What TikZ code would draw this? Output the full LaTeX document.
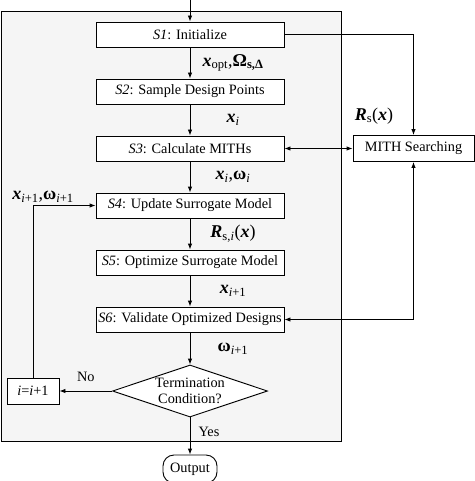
\documentclass[tikz,border=0pt]{standalone}
\usepackage{fontspec}
\setmainfont{Liberation Serif}
\usetikzlibrary{arrows.meta, positioning, quotes, shapes.geometric}
\newcommand{\vx}{\textbf{\textit{x}}}
\tikzstyle{every picture} = [x=1pt, y=-1pt, node distance=57pt, >={Latex[length=6pt,width=4.5pt]}, line width=0.9pt,
  every edge quotes/.style={font=\fontsize{18}{20}\selectfont, inner sep=0pt, xshift=43pt}]
\tikzstyle{stepbox} = [draw, fill=white, minimum width=188pt, minimum height=25pt, inner sep=0pt, font=\fontsize{14.3}{16}\selectfont]
\tikzstyle{siglabel} = [font=\fontsize{18}{20}\selectfont, inner sep=0pt]

\begin{document}
\begin{tikzpicture}
            \useasboundingbox (0,0) rectangle (474,481);
            \draw[fill=black!4] (1,11) rectangle (341,441);

            \coordinate (start) at (190,0);
            \node (s1) [stepbox] at (190,34.5) {\textit{S1}: Initialize};
            \node (s2) [stepbox,below of= s1] {\textit{S2}: Sample Design Points};
            \node (s3) [stepbox,below of= s2] {\textit{S3}: Calculate MITHs};
            \node (s4) [stepbox,below of= s3] {\textit{S4}: Update Surrogate Model};
            \node (s5) [stepbox,below of= s4] {\textit{S5}: Optimize Surrogate Model};
            \node (s6) [stepbox,below of= s5] {\textit{S6}: Validate Optimized Designs};
            \node (cond) [draw,fill=white,diamond,aspect=3,inner sep=-6pt,minimum width=155pt,minimum height=52pt,align=center,
                font=\fontsize{14.3}{16}\selectfont,below of= s6,node distance=71.5pt] {Termination\\Condition?};
            \node (out) [draw,fill=white,rounded corners=11pt,minimum width=54pt,minimum height=28pt,inner sep=0pt,
                font=\fontsize{14.3}{16}\selectfont,below of= cond,node distance=78pt] {Output};
            \node (mith) [stepbox,minimum width=121pt,minimum height=26pt,right of= s3,node distance=223.5pt] {MITH Searching};
            \node (iter) [stepbox,minimum width=52pt,minimum height=26pt,left of= cond,node distance=157pt] {\textit{i}=\textit{i}+1};

            \node (rs) [siglabel] at (374,116) {\textbf{\textit{R}}\textsubscript{s}(\vx)};
            \node (loop) [siglabel] at (43,197) {\vx\textsubscript{\textit{i}+1},\textbf{ω}\textsubscript{\textit{i}+1}};

            \draw[->] (start) -- (s1);
            \path (s1) edge[->,"{\vx\textsubscript{opt},\textbf{Ω\textsubscript{s,Δ}}}"] (s2)
                  (s2) edge[->,"{\vx\textsubscript{\textit{i}}}"] (s3)
                  (s3) edge[->,"{\vx\textsubscript{\textit{i}},\textbf{ω}\textsubscript{\textit{i}}}"] (s4)
                  (s4) edge[->,"{\textbf{\textit{R}}\textsubscript{s,\textit{i}}(\vx)}"] (s5)
                  (s5) edge[->,"{\vx\textsubscript{\textit{i}+1}}"] (s6)
                  (s6) edge[->,"{\textbf{ω}\textsubscript{\textit{i}+1}}"] (cond)
                  (cond) edge[->,"Yes" {font=\fontsize{14.3}{16}\selectfont,xshift=-24pt,yshift=4pt}] (out)
                  (cond) edge[->,"No" {font=\fontsize{14.3}{16}\selectfont,xshift=-43pt,yshift=14pt}] (iter)
                  (s3) edge[<->] (mith);
            \draw[->] (s1.east) -| (mith.north);
            \draw[<->] (mith.south) |- (s6.east);
            \draw[->] (iter.north) |- (s4.west);
        \end{tikzpicture}
\end{document}
